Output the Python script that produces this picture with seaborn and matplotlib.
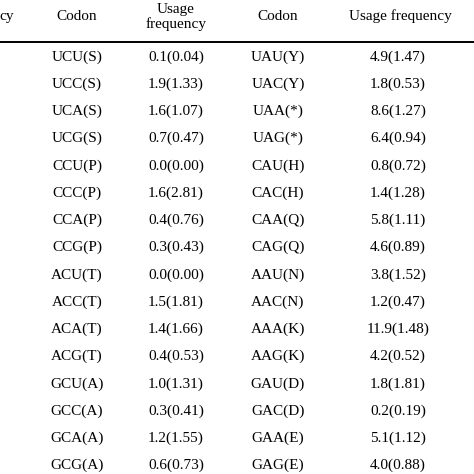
import matplotlib
matplotlib.use("Agg")
import matplotlib.pyplot as plt
import seaborn as sns

codons_1 = ["UCU(S)", "UCC(S)", "UCA(S)", "UCG(S)", "CCU(P)", "CCC(P)", "CCA(P)", "CCG(P)",
            "ACU(T)", "ACC(T)", "ACA(T)", "ACG(T)", "GCU(A)", "GCC(A)", "GCA(A)", "GCG(A)"]
freq_1 = ["0.1(0.04)", "1.9(1.33)", "1.6(1.07)", "0.7(0.47)", "0.0(0.00)", "1.6(2.81)", "0.4(0.76)", "0.3(0.43)",
          "0.0(0.00)", "1.5(1.81)", "1.4(1.66)", "0.4(0.53)", "1.0(1.31)", "0.3(0.41)", "1.2(1.55)", "0.6(0.73)"]
codons_2 = ["UAU(Y)", "UAC(Y)", "UAA(*)", "UAG(*)", "CAU(H)", "CAC(H)", "CAA(Q)", "CAG(Q)",
            "AAU(N)", "AAC(N)", "AAA(K)", "AAG(K)", "GAU(D)", "GAC(D)", "GAA(E)", "GAG(E)"]
freq_2 = ["4.9(1.47)", "1.8(0.53)", "8.6(1.27)", "6.4(0.94)", "0.8(0.72)", "1.4(1.28)", "5.8(1.11)", "4.6(0.89)",
          "3.8(1.52)", "1.2(0.47)", "11.9(1.48)", "4.2(0.52)", "1.8(1.81)", "0.2(0.19)", "5.1(1.12)", "4.0(0.88)"]

sns.set_theme(style="white")
plt.rcParams["font.family"] = ["Liberation Serif", "DejaVu Serif"]
plt.rcParams["text.color"] = "black"

fig = plt.figure(figsize=(4.74, 4.74), dpi=100)
ax = fig.add_axes([0, 0, 1, 1])
ax.set_xlim(0, 474)
ax.set_ylim(474, 0)
ax.axis("off")

fs = 11
# header
ax.text(14, 16, "cy", ha="right", va="center", fontsize=fs)
ax.text(77, 16, "Codon", ha="center", va="center", fontsize=fs)
ax.text(176, 17, "Usage\nfrequency", ha="center", va="center", fontsize=fs, linespacing=1.15)
ax.text(278, 16, "Codon", ha="center", va="center", fontsize=fs)
ax.text(400, 16, "Usage frequency", ha="center", va="center", fontsize=fs)
ax.axhline(41.5, color="black", lw=1.4)

col_x = [77, 176, 278, 398]
cols = [codons_1, freq_1, codons_2, freq_2]
row_y0, row_dy = 57, 27.25
for x, col in zip(col_x, cols):
    for i, s in enumerate(col):
        ax.text(x, row_y0 + i * row_dy, s, ha="center", va="center", fontsize=fs)

fig.savefig("out.png", dpi=100, facecolor="white")
